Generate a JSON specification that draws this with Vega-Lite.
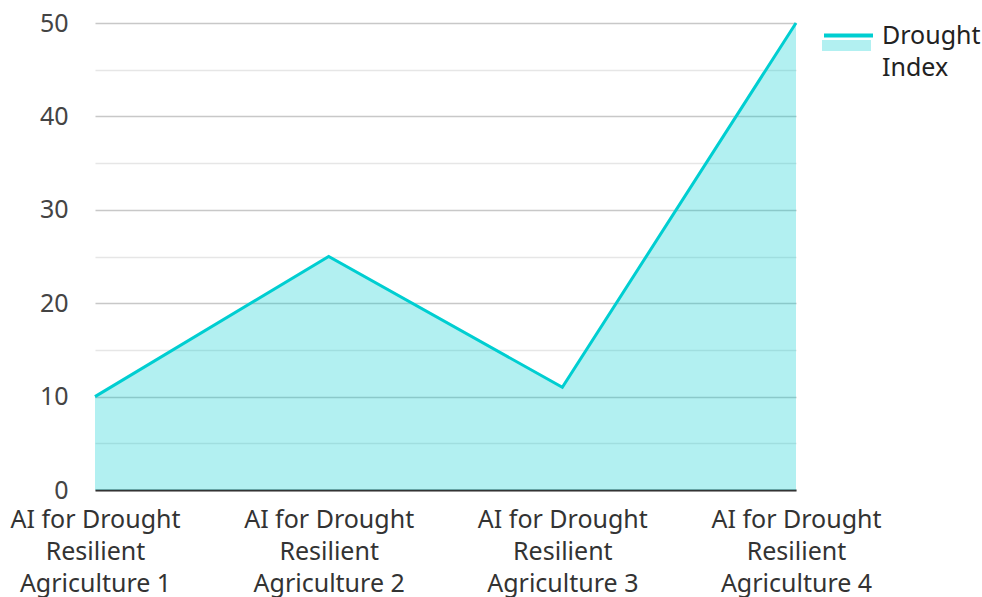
{
  "$schema": "https://vega.github.io/schema/vega-lite/v6.json",
  "width": 701,
  "height": 467,
  "autosize": {"type": "none"},
  "padding": {"left": 95, "top": 23, "right": 186, "bottom": 107},
  "background": "white",
  "config": {"view": {"stroke": null}, "font": "Noto Sans", "style": {"guide-label": {"lineHeight": 32}}},
  "data": {"values": [
    {"cat": "AI for Drought Resilient Agriculture 1", "v": 10, "s": "Drought Index"},
    {"cat": "AI for Drought Resilient Agriculture 2", "v": 25, "s": "Drought Index"},
    {"cat": "AI for Drought Resilient Agriculture 3", "v": 11, "s": "Drought Index"},
    {"cat": "AI for Drought Resilient Agriculture 4", "v": 50, "s": "Drought Index"}
  ]},
  "encoding": {
    "x": {"field": "cat", "type": "ordinal", "scale": {"type": "point", "padding": 0},
      "axis": {"title": null, "labelAngle": 0, "ticks": false, "grid": false, "domain": true, "domainColor": "#333333", "domainWidth": 2,
        "labelFontSize": 25, "labelColor": "#333333", "labelPadding": 17, "labelLineHeight": 32,
        "labelExpr": "['AI for Drought', 'Resilient', replace(datum.label, 'AI for Drought Resilient ', '')]"}},
    "y": {"field": "v", "type": "quantitative", "scale": {"domain": [0, 50], "nice": false},
      "axis": {"title": null, "values": [0, 5, 10, 15, 20, 25, 30, 35, 40, 45, 50], "domain": false, "ticks": false,
        "labelFontSize": 25, "labelColor": "#444444", "labelPadding": 27,
        "labelExpr": "datum.value % 10 == 0 ? datum.label : ''",
        "gridColor": {"condition": {"test": "datum.value % 10 == 0", "value": "#c8c8c8"}, "value": "#e6e6e6"},
        "gridWidth": 1.5}}
  },
  "layer": [
    {"mark": {"type": "area", "opacity": 0.3},
     "encoding": {"fill": {"field": "s", "type": "nominal", "scale": {"range": ["#00CED1"]},
       "legend": {"title": null, "orient": "none", "legendX": 727, "legendY": -2, "symbolType": "M-1,-0.224H1V0.224H-1Z", "symbolSize": 2401, "symbolOpacity": 0.3, "symbolStrokeWidth": 0, "labelExpr": "''", "labelFontSize": 22}}}},
    {"mark": {"type": "line", "strokeWidth": 3},
     "encoding": {"stroke": {"field": "s", "type": "nominal", "scale": {"range": ["#00CED1"]},
       "legend": {"title": null, "orient": "none", "legendX": 727, "legendY": -14, "symbolType": "stroke", "symbolSize": 2401, "symbolStrokeWidth": 4,
         "labelFontSize": 25, "labelColor": "#222222", "labelOffset": 7, "labelLimit": 200, "labelExpr": "split(datum.label, ' ')"}}}}
  ]
}
